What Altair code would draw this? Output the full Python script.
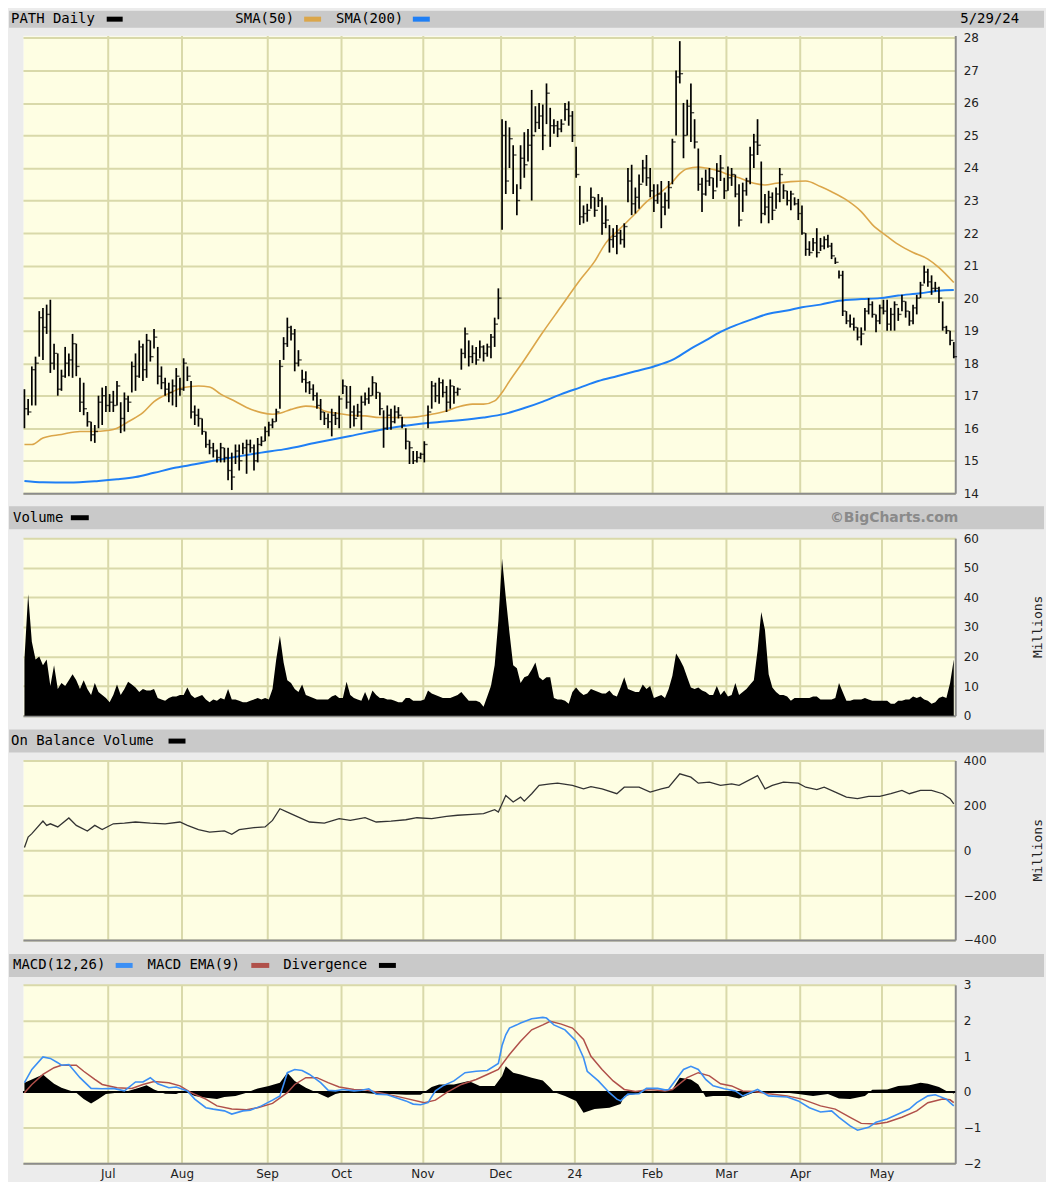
import altair as alt
import pandas as pd

# ---------------- data (trading-day index 0..251, 5/30/23 .. 5/29/24) ----------------
high = [
    17.2, 16.9, 17.9, 18.2, 19.6, 19.7, 19.8, 19.95, 18.6, 18.3,
    17.8, 18.5, 18.3, 18.9, 18.6, 17.55, 17.4, 16.5, 16.2, 16.1,
    17.0, 17.25, 17.3, 17.05, 17.15, 17.45, 16.8, 17.1, 17.0, 18.05,
    18.3, 18.7, 18.6, 18.9, 18.7, 19.05, 18.5, 17.9, 17.55, 17.4,
    17.5, 17.85, 17.55, 18.15, 17.9, 17.45, 16.7, 16.6, 16.3, 15.9,
    15.65, 15.55, 15.35, 15.55, 15.4, 15.4, 15.25, 15.5, 15.5, 15.55,
    15.65, 15.65, 15.5, 15.7, 15.75, 16.05, 16.2, 16.3, 16.6, 18.1,
    18.8, 19.4, 19.15, 19.05, 18.4, 17.8, 17.75, 17.45, 17.35, 17.1,
    16.9, 16.5, 16.45, 16.6, 16.5, 17.0, 17.5, 17.3, 17.3, 16.7,
    16.75, 17.0, 17.1, 17.25, 17.6, 17.4, 17.1, 16.55, 16.7, 16.6,
    16.7, 16.65, 16.35, 16.0, 15.6, 15.3, 15.3, 15.25, 15.6, 16.7,
    17.45, 17.4, 17.55, 17.5, 17.3, 17.5, 17.3, 17.25, 18.45, 19.1,
    18.7, 18.55, 18.5, 18.7, 18.55, 18.6, 18.9, 19.4, 20.3, 25.5,
    25.45, 25.25, 24.7, 23.5, 24.7, 25.1, 25.2, 26.4, 25.9, 26.0,
    25.95, 26.6, 25.85, 25.5, 25.45, 25.5, 26.0, 26.05, 25.75, 24.65,
    23.45, 22.85, 22.9, 23.4, 23.1, 23.2, 23.1, 22.85, 22.25, 22.15,
    22.25, 22.1, 22.3, 24.0, 24.1, 23.4, 23.8, 24.25, 24.4, 24.0,
    23.5, 23.5, 23.6, 23.25, 23.6, 24.9, 27.0, 27.9, 26.0, 26.1,
    26.6, 25.5, 24.6, 23.7, 23.95, 24.0, 23.7, 24.15, 24.4, 23.7,
    24.05, 24.0, 23.8, 23.5, 23.55, 23.7, 24.65, 25.05, 25.5, 24.2,
    23.2, 23.3, 23.25, 23.4, 24.0, 23.5, 23.3, 23.3, 23.1, 23.05,
    22.85, 22.0, 21.75, 21.85, 22.15, 21.85, 21.9, 21.95, 21.7, 21.25,
    20.85, 20.84, 19.6, 19.5, 19.4, 19.1, 19.1, 19.7, 20.0, 19.9,
    19.5, 19.8, 19.95, 19.95, 19.7, 19.9, 19.7, 20.1, 19.9, 19.6,
    19.8, 20.1, 20.5, 21.0, 20.9, 20.7, 20.5, 20.35, 19.9, 19.15,
    19.0, 18.65,
]
low = [
    16.0, 16.4, 16.7, 16.7, 18.2, 18.1, 18.9, 17.7, 17.8, 17.0,
    17.15, 17.55, 17.6, 17.55, 17.6, 16.5, 16.4, 16.05, 15.6, 15.55,
    16.0, 16.1, 16.5, 16.5, 16.5, 16.7, 15.85, 15.9, 16.5, 17.1,
    17.15, 17.55, 17.45, 17.55, 18.05, 18.45, 17.35, 17.2, 17.0, 16.8,
    16.7, 16.65, 17.0, 17.15, 17.45, 16.3, 16.1, 16.05, 15.8, 15.4,
    15.2, 15.1, 14.95, 14.95, 14.95, 14.4, 14.1, 14.9, 14.7, 15.2,
    14.6, 15.25, 14.7, 14.95, 15.45, 15.6, 15.75, 16.0, 16.2, 16.6,
    18.1, 18.5, 18.7, 17.75, 17.9, 17.4, 17.1, 17.05, 16.85, 16.6,
    16.25, 16.1, 16.0, 15.75, 16.1, 16.0, 17.05, 16.6, 16.0, 16.05,
    16.35, 15.95, 16.7, 16.75, 17.0, 16.9, 16.4, 15.4, 15.95, 15.95,
    16.15, 16.3, 16.0, 15.35, 14.9, 14.9, 14.95, 15.05, 14.95, 16.0,
    16.6, 16.8, 16.75, 16.95, 16.5, 16.6, 16.75, 17.0, 17.8, 18.15,
    17.9, 18.0, 17.95, 18.15, 18.05, 18.2, 18.15, 18.5, 19.35, 22.1,
    23.2, 24.0, 23.2, 22.55, 23.35, 23.7, 24.2, 23.0, 25.1, 25.2,
    24.55, 25.35, 24.65, 25.05, 24.95, 25.1, 25.45, 25.3, 24.8, 23.7,
    22.25, 22.3, 22.35, 22.75, 22.5, 22.8, 21.95, 22.15, 21.4, 21.55,
    21.35, 21.65, 21.55, 22.95, 22.55, 22.6, 22.75, 23.55, 23.45, 23.1,
    22.65, 22.9, 22.15, 22.55, 22.75, 23.5, 25.0, 26.6, 24.3, 25.0,
    24.8, 24.6, 23.3, 22.65, 23.15, 23.45, 23.05, 23.4, 23.6, 23.05,
    23.3, 23.45, 23.1, 22.2, 22.65, 23.15, 23.5, 24.0, 24.4, 22.3,
    22.55, 22.3, 22.4, 22.75, 22.95, 23.05, 22.85, 22.7, 22.85, 22.4,
    21.95, 21.3, 21.3, 21.45, 21.25, 21.45, 21.5, 21.55, 21.2, 21.05,
    20.6, 19.45, 19.2, 19.1, 19.0, 18.7, 18.55, 19.0, 19.5, 19.4,
    18.95, 19.2, 19.5, 19.0, 19.0, 19.0, 19.3, 19.6, 19.4, 19.15,
    19.2, 19.5, 20.0, 20.45, 20.35, 20.1, 20.2, 19.85, 19.0, 18.9,
    18.55, 18.15,
]
close = [
    16.6, 16.5, 17.8, 18.0, 19.4, 19.1, 19.5, 18.0, 18.3, 17.2,
    17.6, 18.0, 18.1, 18.6, 17.9, 16.8, 16.6, 16.2, 15.8, 15.9,
    16.8, 17.0, 16.7, 16.8, 16.7, 17.3, 16.3, 16.9, 16.8, 17.9,
    17.6, 18.5, 17.8, 18.7, 18.2, 18.8, 17.6, 17.4, 17.2, 17.1,
    17.3, 17.6, 17.2, 18.0, 17.6, 16.5, 16.4, 16.3, 15.9, 15.5,
    15.4, 15.3, 15.1, 15.4, 15.1, 14.7, 14.5, 15.3, 15.0, 15.4,
    15.5, 15.4, 15.0, 15.5, 15.6, 15.9, 16.1, 16.2, 16.5, 17.9,
    18.6, 19.1, 18.9, 18.0, 18.1, 17.5, 17.4, 17.2, 17.0, 16.7,
    16.5, 16.3, 16.2, 16.4, 16.3, 16.9, 17.3, 16.8, 16.5, 16.3,
    16.5, 16.8, 16.9, 17.0, 17.4, 17.1, 16.6, 16.0, 16.4, 16.2,
    16.5, 16.4, 16.1, 15.6, 15.4, 15.0, 15.1, 15.2, 15.5, 16.5,
    17.3, 17.0, 17.4, 17.1, 16.8, 17.3, 17.1, 17.2, 18.3, 18.9,
    18.2, 18.3, 18.1, 18.5, 18.3, 18.5, 18.8, 19.2, 20.0, 25.0,
    23.6, 24.9, 24.4, 23.0, 24.3, 24.1, 24.7, 25.0, 25.4, 25.6,
    25.0, 26.3, 25.3, 25.3, 25.2, 25.35, 25.8, 25.6, 25.0, 23.8,
    22.5, 22.6, 22.7, 23.1, 22.7, 23.0, 22.3, 22.4, 21.8, 21.9,
    22.0, 21.8, 22.2, 23.6, 22.9, 23.1, 23.5, 24.0, 23.7, 23.3,
    23.0, 23.2, 22.8, 23.0, 23.4, 24.8, 26.8, 26.9, 25.0, 25.9,
    25.7, 24.8, 23.5, 23.2, 23.6, 23.7, 23.3, 23.9, 24.0, 23.3,
    23.7, 23.8, 23.2, 22.4, 23.3, 23.6, 24.4, 24.8, 24.7, 22.6,
    22.8, 23.1, 22.7, 23.2, 23.8, 23.3, 23.0, 23.2, 22.9, 22.6,
    22.0, 21.5, 21.4, 21.7, 21.4, 21.6, 21.8, 21.6, 21.3, 21.1,
    20.7, 19.6, 19.3, 19.2, 19.1, 18.8, 18.9, 19.6, 19.8, 19.5,
    19.3, 19.7, 19.6, 19.2, 19.5, 19.8, 19.5, 19.9, 19.6, 19.3,
    19.7, 20.0, 20.4, 20.8, 20.5, 20.3, 20.3, 20.0, 19.1, 19.0,
    18.7, 18.2,
]
volume = [
    19, 41, 25, 19, 20, 17, 19, 10, 17, 9,
    11, 10, 12, 14, 12, 9, 12, 9, 7, 11,
    8, 7, 6, 4.5, 7, 10.5, 7, 9, 11.5, 10.5,
    9.5, 8, 9, 8.5, 8.5, 9, 6, 5.5, 5, 6,
    6.5, 6.5, 7, 7, 9.5, 7, 6, 6.5, 7, 5.5,
    4.5, 5.5, 5, 6, 5.5, 9, 5.5, 5.5, 5, 4.5,
    4.5, 5, 5.5, 6, 5.5, 6, 5.5, 9, 19, 27,
    18, 12, 11, 9, 8, 10.5, 7, 6.5, 6, 5.5,
    5.5, 5.5, 5.5, 6.5, 7, 6, 6, 11.5, 7, 6,
    5.5, 5, 8, 5, 8.5, 7, 6, 6, 5.5, 5.5,
    5, 4.5, 4.5, 6, 6, 5, 5, 5, 5.5, 8.5,
    7.5, 7, 6.5, 6, 6, 6, 6.5, 7, 8, 6.5,
    5, 5, 5, 4.5, 3, 6.5, 10, 17, 32, 53,
    40, 28, 17, 16, 11, 13, 13.5, 15.5, 18, 13,
    12, 13, 13, 6, 5.5, 5.5, 5, 4, 8, 9.5,
    8, 7, 7.5, 9, 8.5, 8, 7.5, 7.5, 8.5, 7,
    6.5, 9.5, 13, 9, 8.5, 8, 8, 10.5, 9, 10,
    6, 6.5, 7, 6, 9, 13.5, 21, 19, 16.5, 13,
    9.5, 9, 9.5, 8.5, 8, 7, 7, 10, 7, 8.5,
    6.5, 7, 11, 7, 8, 9, 10.5, 12, 22, 35,
    29, 14, 9.5, 8, 7, 7, 6.5, 5, 6, 6,
    6, 6, 6, 6.5, 6.5, 5.5, 5.5, 5.5, 5.5, 6,
    11, 8, 5, 5, 5.5, 5.5, 5.5, 6, 5.5, 5,
    5, 5, 5, 5, 4, 4, 5, 5, 5.5, 5.5,
    6.5, 6, 6.5, 5.5, 5, 4, 4.5, 6, 6.5, 6,
    11, 19,
]

sma50_idx = [0, 2, 5, 10, 15, 18, 23, 25, 28, 32, 35, 39, 43, 47, 50, 53, 57, 60, 64, 67,
             69, 72, 76, 79, 81, 85, 88, 92, 96, 103, 106, 110, 114, 117, 121, 124, 127, 129, 131, 135,
             140, 145, 150, 154, 157, 161, 165, 168, 172, 175, 177, 179, 182, 184, 187, 190, 193, 197, 200, 203,
             207, 211, 215, 218, 222, 226, 229, 233, 236, 240, 244, 247, 251]
sma50_val = [15.5, 15.5, 15.7, 15.81, 15.9, 15.9, 15.94, 16.0, 16.2, 16.48, 16.82, 17.07, 17.25, 17.3, 17.27, 17.05, 16.82, 16.64, 16.48, 16.43,
             16.46, 16.58, 16.68, 16.65, 16.53, 16.45, 16.4, 16.38, 16.33, 16.33, 16.35, 16.43, 16.53, 16.65, 16.74, 16.74, 16.84, 17.1, 17.45, 18.1,
             18.95, 19.75, 20.55, 21.13, 21.69, 22.15, 22.6, 22.96, 23.27, 23.57, 23.83, 23.98, 24.03, 24.0, 23.93, 23.8, 23.7, 23.53, 23.48, 23.53,
             23.58, 23.6, 23.43, 23.27, 23.02, 22.66, 22.26, 21.9, 21.65, 21.4, 21.2, 20.94, 20.48]

sma200_idx = [0, 5, 12, 20, 25, 30, 35, 41, 46, 51, 57, 64, 70, 79, 88, 97, 106, 115, 124, 130,
              135, 140, 145, 150, 155, 160, 165, 170, 175, 180, 184, 188, 192, 197, 201, 206, 210, 215, 220, 226,
              231, 236, 242, 247, 251]
sma200_val = [14.38, 14.34, 14.33, 14.38, 14.43, 14.5, 14.63, 14.79, 14.89, 15.0, 15.12, 15.25, 15.35, 15.56, 15.76, 15.97, 16.12, 16.22, 16.33, 16.45,
              16.62, 16.82, 17.05, 17.25, 17.45, 17.6, 17.75, 17.9, 18.1, 18.45, 18.7, 18.96, 19.16, 19.37, 19.52, 19.62, 19.72, 19.8, 19.92, 19.97,
              20.0, 20.08, 20.15, 20.23, 20.25]

obv_idx = [0, 1, 2, 5, 6, 7, 9, 12, 14, 17, 19, 21, 24, 27, 30, 34, 38, 42, 44, 47,
           50, 54, 56, 58, 62, 65, 67, 69, 71, 74, 77, 81, 85, 88, 92, 95, 99, 103, 106, 110,
           114, 117, 121, 124, 127, 128, 130, 132, 134, 135, 137, 139, 142, 144, 148, 151, 153, 156, 160, 162,
           166, 169, 172, 174, 177, 180, 182, 185, 188, 191, 193, 198, 200, 202, 205, 209, 211, 214, 216, 219,
           222, 225, 228, 231, 234, 237, 239, 242, 245, 248, 250, 251]
obv_val = [12, 59, 74, 130, 111, 118, 104, 144, 111, 86, 111, 92, 118, 121, 126, 121, 118, 126, 111, 92,
           81, 86, 71, 92, 101, 104, 133, 185, 170, 148, 126, 121, 141, 133, 145, 126, 130, 136, 145, 141,
           151, 156, 160, 163, 181, 170, 244, 215, 237, 219, 252, 289, 296, 299, 289, 274, 284, 274, 252, 281,
           281, 259, 274, 281, 341, 326, 299, 304, 289, 296, 289, 333, 274, 289, 304, 299, 281, 270, 281, 259,
           237, 230, 240, 240, 252, 267, 252, 267, 267, 252, 230, 207]

macd_idx = [0, 2, 5, 7, 9, 10, 12, 15, 18, 21, 24, 27, 30, 32, 34, 36, 39, 41, 44, 46,
            49, 51, 54, 56, 59, 61, 64, 67, 69, 70, 71, 73, 75, 77, 80, 82, 84, 86, 89, 91,
            93, 95, 98, 101, 103, 105, 107, 109, 111, 113, 116, 119, 122, 125, 128, 129, 130, 131, 133, 134,
            137, 140, 141, 143, 146, 149, 151, 152, 155, 158, 160, 161, 163, 166, 168, 171, 173, 174, 176, 178,
            180, 182, 184, 186, 189, 192, 194, 196, 198, 201, 206, 209, 212, 215, 218, 220, 223, 225, 228, 230,
            233, 236, 239, 241, 244, 246, 249, 250, 251]
macd_val = [0.26, 0.63, 0.98, 0.94, 0.82, 0.75, 0.77, 0.4, 0.1, 0.09, 0.1, 0.03, 0.28, 0.28, 0.4, 0.23, 0.12, 0.14, 0.03, -0.2,
            -0.44, -0.48, -0.53, -0.62, -0.53, -0.51, -0.39, -0.23, -0.11, 0.21, 0.54, 0.63, 0.6, 0.49, 0.26, 0.05, 0.03, 0.07, 0.03, 0.05,
            0.09, -0.06, -0.08, -0.18, -0.25, -0.34, -0.36, -0.3, 0.03, 0.17, 0.31, 0.54, 0.58, 0.6, 0.8, 1.3, 1.6, 1.79, 1.88, 1.93,
            2.05, 2.09, 2.07, 1.88, 1.74, 1.42, 0.96, 0.58, 0.31, -0.02, -0.2, -0.25, -0.06, -0.05, 0.1, 0.1, 0.06, 0.07, 0.35, 0.63,
            0.72, 0.63, 0.35, 0.17, 0.09, 0.03, -0.11, -0.02, 0.07, -0.11, -0.14, -0.25, -0.44, -0.56, -0.53, -0.71, -0.95, -1.07, -0.99, -0.85,
            -0.76, -0.62, -0.48, -0.3, -0.11, -0.08, -0.2, -0.3, -0.39]

ema_idx = [0, 2, 5, 8, 10, 14, 16, 19, 21, 25, 29, 32, 35, 39, 42, 45, 49, 52, 56, 60,
           63, 67, 71, 73, 76, 79, 82, 85, 89, 92, 96, 100, 103, 108, 111, 114, 118, 122, 125, 128,
           131, 134, 137, 140, 142, 145, 148, 151, 153, 156, 159, 162, 165, 169, 173, 175, 179, 182, 185, 188,
           191, 194, 197, 201, 206, 210, 215, 219, 223, 226, 230, 233, 237, 241, 244, 248, 250, 251]
ema_val = [-0.02, 0.21, 0.49, 0.68, 0.75, 0.75, 0.58, 0.35, 0.21, 0.12, 0.1, 0.21, 0.29, 0.26, 0.17, -0.02, -0.2, -0.39, -0.48, -0.5,
           -0.44, -0.32, -0.02, 0.21, 0.4, 0.4, 0.26, 0.14, 0.07, 0.06, -0.02, -0.11, -0.18, -0.3, -0.23, -0.02, 0.21, 0.35, 0.49, 0.63,
           1.05, 1.42, 1.74, 1.88, 1.98, 1.9, 1.79, 1.47, 1.0, 0.63, 0.31, 0.07, 0.01, 0.07, 0.03, 0.07, 0.4, 0.54, 0.45, 0.23,
           0.17, 0.03, 0.01, -0.05, -0.11, -0.2, -0.39, -0.48, -0.71, -0.88, -0.9, -0.85, -0.71, -0.53, -0.3, -0.2, -0.22, -0.3]

div_idx = [0, 2, 5, 6, 8, 10, 12, 14, 16, 18, 20, 22, 25, 28, 31, 33, 35, 38, 41, 43,
           46, 49, 52, 54, 57, 60, 63, 66, 69, 71, 73, 76, 79, 82, 84, 87, 91, 95, 99, 103,
           107, 110, 112, 116, 120, 123, 127, 129, 130, 132, 134, 137, 140, 142, 143, 146, 149, 151, 154, 158,
           161, 162, 165, 169, 173, 175, 177, 180, 182, 184, 186, 190, 193, 196, 198, 202, 206, 209, 213, 217,
           220, 223, 227, 229, 233, 236, 239, 242, 244, 247, 249, 250, 251]
div_val = [0.26, 0.35, 0.49, 0.4, 0.23, 0.12, 0.05, -0.02, -0.2, -0.32, -0.2, -0.06, -0.02, 0.03, 0.12, 0.19, 0.07, -0.05, -0.06, 0.03,
           -0.11, -0.16, -0.2, -0.14, -0.11, -0.02, 0.1, 0.17, 0.26, 0.54, 0.31, 0.12, -0.02, -0.16, -0.06, 0.01, -0.02, -0.06, -0.06, -0.08,
           -0.08, 0.14, 0.21, 0.21, 0.31, 0.17, 0.17, 0.45, 0.72, 0.54, 0.49, 0.4, 0.32, 0.12, 0.0, -0.11, -0.25, -0.58, -0.48, -0.44,
           -0.34, -0.11, -0.06, 0.03, 0.03, 0.07, 0.4, 0.35, 0.21, -0.14, -0.11, -0.11, -0.18, -0.06, 0.03, -0.02, -0.02, -0.06, -0.11, -0.06,
           -0.18, -0.2, -0.11, 0.06, 0.07, 0.17, 0.19, 0.26, 0.23, 0.14, 0.03, 0.01, -0.05]

# first trading day of each month (index) and the axis labels
month_idx = [23, 43, 66, 86, 108, 129, 149, 170, 190, 210, 232]
month_lbl = ["Jul", "Aug", "Sep", "Oct", "Nov", "Dec", "24", "Feb", "Mar", "Apr", "May"]

# ---------------- tables ----------------
n = len(close)
idx = list(range(n))
bars = pd.DataFrame({"i": idx, "high": high, "low": low, "close": close})
vol_df = pd.DataFrame({"i": idx, "vol": volume})
sma50_df = pd.DataFrame({"i": sma50_idx, "v": sma50_val})
sma200_df = pd.DataFrame({"i": sma200_idx, "v": sma200_val})
obv_df = pd.DataFrame({"i": obv_idx, "v": obv_val})
macd_df = pd.DataFrame({"i": macd_idx, "v": macd_val})
ema_df = pd.DataFrame({"i": ema_idx, "v": ema_val})
div_df = pd.DataFrame({"i": div_idx, "v": div_val})
one = pd.DataFrame({"k": [0]})

# ---------------- styling ----------------
MONO = "DejaVu Sans Mono"
SANS = "DejaVu Sans"
ORANGE = "#dba64a"
BLUE = "#1f7ff5"
MACD_BLUE = "#3b8ff5"
EMA_RED = "#b0504a"
HEADER = "#c9c9c9"
W = 935

grid_vals = [m - 0.5 for m in month_idx]
label_expr = "".join(f"datum.value == {v} ? '{l}' : " for v, l in zip(grid_vals, month_lbl)) + "''"
xscale = alt.Scale(domain=[-0.4, 251.4], nice=False, zero=False)


def xenc(show_labels):
    return alt.X("i:Q", scale=xscale,
                 axis=alt.Axis(values=grid_vals, labels=show_labels, labelExpr=label_expr,
                               ticks=False, grid=True, domain=True, title=None,
                               labelPadding=5, labelFontSize=12, labelFlush=False))


def yaxis(values):
    return alt.Axis(orient="right", values=values, ticks=False, grid=True, domain=True,
                    title=None, labelPadding=8, labelFlush=False)


def box(x1, x2, y1, y2, color):
    return alt.Chart(one).mark_rect(color=color).encode(
        x=alt.value(x1), x2=alt.value(x2), y=alt.value(y1), y2=alt.value(y2))


def label(txt, x, y, align="left", font=MONO, size=14, color="#000000", weight="normal", angle=0):
    return alt.Chart(one).mark_text(text=txt, align=align, baseline="middle", font=font,
                                    fontSize=size, color=color, fontWeight=weight,
                                    angle=angle).encode(x=alt.value(x), y=alt.value(y))


# ---------------- price panel ----------------
PH = 459
px = xenc(False)
pys = alt.Scale(domain=[14, 28.07], nice=False, zero=False)
pya = yaxis(list(range(14, 29)))

price = alt.layer(
    box(-14, 1024, -25, -8, HEADER),
    label("PATH Daily", -12, -16.5),
    box(84, 100, -19, -14, "#000000"),
    label("SMA(50)", 213, -16.5),
    box(282, 299, -19, -14, ORANGE),
    label("SMA(200)", 314, -16.5),
    box(391, 408, -19, -14, BLUE),
    label("5/29/24", 999, -16.5, align="right"),
    alt.Chart(sma200_df).mark_line(color=BLUE, strokeWidth=2, interpolate="monotone").encode(
        x=px, y=alt.Y("v:Q", scale=pys, axis=pya)),
    alt.Chart(sma50_df).mark_line(color=ORANGE, strokeWidth=1.6, interpolate="monotone").encode(
        x=px, y=alt.Y("v:Q", scale=pys, axis=pya)),
    alt.Chart(bars).mark_rule(color="#000000", strokeWidth=1.7).encode(
        x=px, y=alt.Y("low:Q", scale=pys, axis=pya), y2="high:Q"),
    alt.Chart(bars).mark_tick(orient="horizontal", size=3, thickness=1.4, xOffset=1.8,
                              color="#000000").encode(
        x=px, y=alt.Y("close:Q", scale=pys, axis=pya)),
).properties(width=W, height=PH)

# ---------------- volume panel ----------------
VH = 178
vx = xenc(False)
volume_panel = alt.layer(
    box(-14, 1024, -32, -9, HEADER),
    label("Volume", -10, -20.5),
    box(48, 66, -23, -18, "#000000"),
    label("©BigCharts.com", 938, -20.5, align="right", font=SANS, size=14,
          color="#8a8a8a", weight="bold"),
    label("Millions", 1018, VH / 2, align="center", size=13, color="#222222", angle=270),
    alt.Chart(vol_df).mark_area(color="#000000", interpolate="linear").encode(
        x=vx, y=alt.Y("vol:Q", scale=alt.Scale(domain=[0, 60], nice=False),
                      axis=yaxis([0, 10, 20, 30, 40, 50, 60]))),
).properties(width=W, height=VH)

# ---------------- OBV panel ----------------
OH = 180
ox = xenc(False)
obv_panel = alt.layer(
    box(-14, 1024, -31, -8, HEADER),
    label("On Balance Volume", -12, -19.5),
    box(146, 163, -22, -17, "#000000"),
    label("Millions", 1018, OH / 2, align="center", size=13, color="#222222", angle=270),
    alt.Chart(obv_df).mark_line(color="#333333", strokeWidth=1.3).encode(
        x=ox, y=alt.Y("v:Q", scale=alt.Scale(domain=[-400, 400], nice=False),
                      axis=yaxis([-400, -200, 0, 200, 400]))),
).properties(width=W, height=OH)

# ---------------- MACD panel ----------------
MH = 179
mx = xenc(True)
mys = alt.Scale(domain=[-2, 3], nice=False, zero=False)
mya = yaxis([-2, -1, 0, 1, 2, 3])
macd_panel = alt.layer(
    box(-14, 1024, -31, -8, HEADER),
    label("MACD(12,26)", -10, -19.5),
    box(93, 110, -22, -17, MACD_BLUE),
    label("MACD EMA(9)", 125, -19.5),
    box(229, 247, -22, -17, EMA_RED),
    label("Divergence", 261, -19.5),
    box(357, 374, -22, -17, "#000000"),
    alt.Chart(div_df).mark_area(color="#000000", interpolate="linear").encode(
        x=mx, y=alt.Y("v:Q", scale=mys, axis=mya), y2=alt.datum(0)),
    alt.Chart(one).mark_rule(color="#000000", strokeWidth=2).encode(
        y=alt.Y(datum=0, scale=mys, axis=mya)),
    alt.Chart(ema_df).mark_line(color=EMA_RED, strokeWidth=1.5).encode(
        x=mx, y=alt.Y("v:Q", scale=mys, axis=mya)),
    alt.Chart(macd_df).mark_line(color=MACD_BLUE, strokeWidth=1.6).encode(
        x=mx, y=alt.Y("v:Q", scale=mys, axis=mya)),
).properties(width=W, height=MH)

chart = alt.vconcat(price, volume_panel, obv_panel, macd_panel, spacing=45, bounds="flush").properties(
    padding=0, background="#ececec"
).configure_view(
    fill="#fefee3", stroke="#f6f6ee", strokeWidth=1
).configure_axis(
    gridColor="#d9d9aa", gridWidth=2, domainColor="#8c8c8c", domainWidth=2,
    labelFont=SANS, labelFontSize=12, labelColor="#222222"
)

chart.save("out.html", embed_options={"renderer": "svg", "actions": False})
